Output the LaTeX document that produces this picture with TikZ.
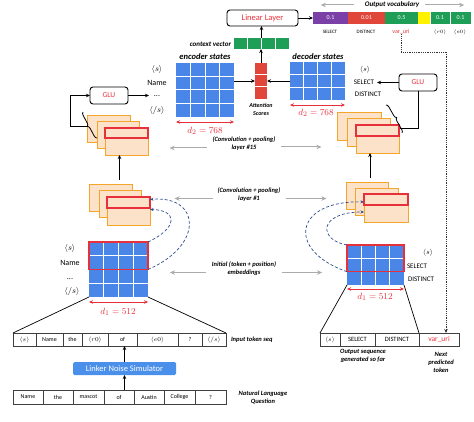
\documentclass[tikz,border=0pt]{standalone}
\usepackage{fontspec}
\setmainfont{Carlito}
\usetikzlibrary{arrows.meta,decorations.pathreplacing,calc}
\definecolor{gblue}{HTML}{4A86E8}
\definecolor{lblue}{HTML}{4A8FEA}
\definecolor{cred}{HTML}{E0463A}
\definecolor{tred}{HTML}{E8303A}
\definecolor{cgreen}{HTML}{1E9E57}
\definecolor{cpurple}{HTML}{7B3FA8}
\definecolor{cyellow}{HTML}{FFF200}
\definecolor{peach}{HTML}{FCE2C8}
\definecolor{corange}{HTML}{F4A62A}
\definecolor{garrow}{HTML}{ABABAB}
\definecolor{dblue}{HTML}{2F4D8C}
\newcommand\myfs[2]{\fontsize{#1}{#2}\selectfont}
\newcommand\bx[7]{\node[#1, anchor=north west, minimum width={#5-#3}, minimum height={#6-#4}] (#2) at (#3,#4) {#7};}
\newcommand\vlines[2]{\foreach \fr in {#2} \draw[white, line width=1pt] ($(#1.north west)!\fr!(#1.north east)$) -- ($(#1.south west)!\fr!(#1.south east)$);}
\newcommand\hlines[2]{\foreach \fr in {#2} \draw[white, line width=1pt] ($(#1.north west)!\fr!(#1.south west)$) -- ($(#1.north east)!\fr!(#1.south east)$);}
\tikzset{
 every node/.style={inner sep=0pt, outer sep=0pt},
 arr/.style={-{Stealth[length=4pt,width=3.5pt]}, line width=0.8pt, black},
 garr/.style={-{Stealth[length=5pt,width=4.5pt]}, line width=1pt, garrow},
 darr/.style={{Stealth[length=4pt,width=3.5pt]}-{Stealth[length=4pt,width=3.5pt]}, line width=0.9pt, tred},
 card/.style={draw=corange, fill=peach, line width=0.9pt},
 redbox/.style={draw=tred, line width=1.2pt},
 rbox/.style={draw=black, line width=0.9pt, rounded corners=3pt, fill=white, text=tred},
 cell/.style={draw=black!75, line width=0.5pt, font=\myfs{6}{7}},
 vc/.style={text=white, font=\myfs{6}{7}},
 vlab/.style={font=\myfs{5}{6}},
 lab/.style={font=\myfs{6.5}{8}\bfseries\itshape, align=center},
 tok/.style={font=\myfs{8}{9}},
 stok/.style={font=\myfs{7}{8}},
 dlab/.style={text=tred, font=\myfs{9.5}{11}},
 dcurve/.style={densely dashed, dblue, line width=0.7pt, -{Stealth[length=3.5pt,width=3pt]}},
 brc/.style={decorate, decoration={brace, amplitude=3pt}, line width=0.8pt},
 thinl/.style={line width=0.7pt},
 dotl/.style={densely dotted, line width=0.8pt, black!80},
}
\begin{document}
\begin{tikzpicture}[x=1pt,y=-1pt]
\useasboundingbox (0,0) rectangle (474,422);
% ---------- output vocabulary ----------
\node[lab, font=\myfs{7}{8}\bfseries\itshape] (ov) at (392,5) {Output vocabulary};
\draw[garr] ([xshift=-11pt]ov.west) -- ++(-33,0);
\draw[garr] ([xshift=6pt]ov.east) -- ++(39,0);
\bx{vc, fill=cpurple}{v1}{313}{12}{348}{24}{0.1}
\bx{vc, fill=cred}{v2}{348}{12}{385}{24}{0.01}
\bx{vc, fill=cgreen}{v3}{385}{12}{418}{24}{0.5}
\bx{vc, fill=cyellow}{v4}{418}{12}{430}{24}{}
\bx{vc, fill=cgreen}{v5}{430}{12}{450}{24}{0.1}
\bx{vc, fill=cgreen}{v6}{450}{12}{471}{24}{0.1}
\draw[white, line width=0.8pt] (v5.north west) -- (v5.south west) (v6.north west) -- (v6.south west);
\node[vlab] (vl1) at (330,32) {SELECT};
\node[vlab] (vl2) at (366,32) {DISTINCT};
\node[vlab, text=tred, font=\myfs{6}{7}] (vl3) at (401,32) {var\_uri};
\node[vlab] (vl5) at (440,32) {$\langle r0\rangle$};
\node[vlab] (vl6) at (460,32) {$\langle e0\rangle$};
% ---------- linear layer / context / attention ----------
\bx{rbox, font=\myfs{8.5}{10}}{ll}{227}{10}{298}{26}{Linear Layer}
\draw[arr] (ll.east) -- (v1.west);
\bx{fill=cgreen}{ctx}{234}{38}{289}{49}{}
\vlines{ctx}{0.25,0.5,0.75}
\node[lab, font=\myfs{7}{8}\bfseries\itshape, anchor=east] (ctxl) at (231,44) {context vector};
\draw[arr] (ctx.north) -- (ctx.north |- ll.south);
\bx{fill=cred}{att}{255}{63}{267}{99}{}
\hlines{att}{0.3333,0.6667}
\draw[arr] (att.north) -- (att.north |- ctx.south);
\node[lab, font=\myfs{6}{8}\bfseries\itshape] (attl) at (261,109) {Attention\\Scores};
% encoder states
\bx{fill=gblue}{enc}{176}{63}{234}{117}{}
\vlines{enc}{0.25,0.5,0.75}
\hlines{enc}{0.25,0.5,0.75}
\node[lab, font=\myfs{8.5}{10}\bfseries\itshape] (encl) at (205,57) {encoder states};
\draw[arr] (enc.east |- att.west) -- (att.west);
\draw[darr] ([yshift=-5pt]enc.south west) -- ([yshift=-5pt]enc.south east);
\node[dlab] (d2a) at (205,131) {$d_2 = 768$};
% decoder states
\bx{fill=gblue}{dec}{290}{62}{345}{100}{}
\vlines{dec}{0.25,0.5,0.75}
\hlines{dec}{0.3333,0.6667}
\node[lab, font=\myfs{8.5}{10}\bfseries\itshape] (decl) at (318,57) {decoder states};
\draw[arr] (dec.west |- att.east) -- (att.east);
\draw[darr] ([yshift=-5pt]dec.south west) -- ([yshift=-5pt]dec.south east);
\node[dlab] (d2b) at (316,113) {$d_2 = 768$};
% ---------- left encoder side ----------
\node[tok] (t1) at (157,70) {$\langle s\rangle$};
\node[tok] (t2) at (157,83) {Name};
\node[tok] (t3) at (157,96) {...};
\node[tok] (t4) at (157,111) {$\langle /s\rangle$};
\bx{rbox, font=\myfs{7.5}{9}}{glul}{90}{87}{128}{104}{GLU}
\draw[arr] (glul.east) -- ([xshift=-5pt]t3.west |- glul.east);
% layer 15 stack (left)
\bx{card}{a1}{87}{115}{130}{142}{}
\bx{card}{a2}{97}{121}{139}{148}{}
\bx{card}{a3}{105}{128}{148}{155}{}
\bx{redbox}{a3r}{105}{128}{148}{138}{}
\draw[brc] (97,138) -- (83,112);
\coordinate (bl) at (88,126);
\draw[arr] (bl) -| ($(glul.west)+(-20,0)$) -- (glul.west);
% layer 1 stack (left)
\bx{card}{b1}{89}{184}{132}{211}{}
\bx{card}{b2}{99}{190}{141}{217}{}
\bx{card}{b3}{107}{197}{150}{225}{}
\bx{redbox}{b3r}{107}{197}{150}{208}{}
\draw[arr] ([xshift=9pt,yshift=4pt]b1.north) -- ([xshift=9pt]b1.north |- a3.south);
% embeddings (left)
\bx{fill=gblue}{embl}{89}{242}{148}{297}{}
\vlines{embl}{0.25,0.5,0.75}
\hlines{embl}{0.25,0.5,0.75}
\bx{redbox}{emblr}{89}{242}{148}{269.5}{}
\node[tok] (e1) at (70,249) {$\langle s\rangle$};
\node[tok] (e2) at (70,263) {Name};
\node[tok] (e3) at (70,279) {...};
\node[tok] (e4) at (72,292) {$\langle /s\rangle$};
\draw[darr] ([yshift=-5pt]embl.south west) -- ([yshift=-5pt]embl.south east);
\node[dlab] (d1a) at (118,312) {$d_1 = 512$};
\draw[dcurve] (emblr.south east) .. controls (205,245) and (200,195) .. ([yshift=3pt]b3r.east);
\draw[dcurve] (embl.north east) .. controls (178,228) and (178,210) .. ([yshift=-7pt]b3r.east);
% ---------- right decoder side ----------
\node[stok] (r0) at (365,70) {$\langle s\rangle$};
\node[stok] (rsel) at (364,82) {SELECT};
\node[stok] (rdis) at (368,94) {DISTINCT};
\bx{rbox, font=\myfs{7.5}{9}}{glur}{399}{74}{437}{91}{GLU}
\draw[arr] (glur.west) -- ([xshift=3pt]rsel.east |- glur.west);
\bx{card}{p1}{337}{112}{381}{140}{}
\bx{card}{p2}{347}{118}{390}{146}{}
\bx{card}{p3}{356}{125}{399}{153}{}
\bx{redbox}{p3r}{356}{125}{399}{136}{}
\draw[brc] (386,105) -- (402,133);
\coordinate (brr) at (400,128);
\draw[line width=0.8pt] (glur.south) |- (brr);
\bx{card}{q1}{346}{182}{388}{209}{}
\bx{card}{q2}{355}{188}{398}{215}{}
\bx{card}{q3}{364}{194}{408}{222}{}
\bx{redbox}{q3r}{364}{194}{408}{205}{}
\draw[arr] ([xshift=3pt,yshift=4pt]q1.north) -- ([xshift=3pt]q1.north |- p3.south);
\bx{fill=gblue}{embr}{347}{245}{404}{285}{}
\vlines{embr}{0.25,0.5,0.75}
\hlines{embr}{0.3333,0.6667}
\bx{redbox}{embrr}{347}{245}{404}{271.7}{}
\node[stok] (s0) at (428,253) {$\langle s\rangle$};
\node[stok, anchor=west] (ssel) at (407,266) {SELECT};
\node[stok, anchor=west] (sdis) at (408,279) {DISTINCT};
\draw[darr] ([yshift=-4pt]embr.south west) -- ([yshift=-4pt]embr.south east);
\node[dlab] (d1b) at (375,297) {$d_1 = 512$};
\draw[dcurve] (embrr.south west) .. controls (285,250) and (295,200) .. ([yshift=6pt]q3.west);
\draw[dcurve] (embr.north west) .. controls (318,240) and (318,212) .. ([yshift=-4pt]q3.west);
% ---------- middle labels ----------
\node[lab] (m15) at (244,144) {(Convolution + pooling)\\layer \#15};
\draw[garr] ([xshift=-6pt,yshift=-4pt]m15.west) -- ++(-37,0);
\draw[garr] ([xshift=6pt,yshift=-3pt]m15.east) -- ++(40,0);
\node[lab] (m1) at (249,194.5) {(Convolution + pooling)\\layer \#1};
\draw[garr] ([xshift=-5pt,yshift=-4pt]m1.west) -- ++(-38,0);
\draw[garr] ([xshift=6pt,yshift=-4pt]m1.east) -- ++(40,0);
\node[lab] (me) at (244,268.5) {Initial (token + position)\\embeddings};
\draw[garr] ([xshift=-6pt,yshift=-4pt]me.west) -- ++(-36,0);
\draw[garr] ([xshift=6pt,yshift=-4pt]me.east) -- ++(40,0);
% ---------- input token sequence ----------
\bx{cell}{s1}{13}{333}{36}{346}{$\langle s\rangle$}
\bx{cell}{s2}{36}{333}{63}{346}{Name}
\bx{cell}{s3}{63}{333}{82}{346}{the}
\bx{cell}{s4}{82}{333}{108}{346}{$\langle r0\rangle$}
\bx{cell}{s5}{108}{333}{137}{346}{of}
\bx{cell}{s6}{137}{333}{178}{346}{$\langle e0\rangle$}
\bx{cell}{s7}{178}{333}{202}{346}{?}
\bx{cell}{s8}{202}{333}{226}{346}{$\langle /s\rangle$}
\node[lab, anchor=west] (isl) at (231,340) {Input token seq};
\draw[thinl] (embl.south west) -- (s1.north west);
\draw[thinl] (embl.south east) -- (s8.north east);
\bx{fill=lblue, text=white, rounded corners=1.5pt, font=\myfs{8.5}{10}}{lns}{73}{362}{176}{375}{Linker Noise Simulator}
\draw[arr] (lns.north) -- (lns.north |- s5.south);
% natural language question
\bx{cell}{n1}{13}{390}{43}{404}{Name}
\bx{cell}{n2}{43}{390}{73}{404}{the}
\bx{cell}{n3}{73}{390}{104}{404}{mascot}
\bx{cell}{n4}{104}{390}{134}{404}{of}
\bx{cell}{n5}{134}{390}{164}{404}{Austin}
\bx{cell}{n6}{164}{390}{195}{404}{College}
\bx{cell}{n7}{195}{390}{226}{404}{?}
\draw[arr] (lns.south |- n4.north) -- (lns.south);
\node[lab] (nll) at (263,397.5) {Natural Language\\Question};
% ---------- output sequence ----------
\bx{cell, font=\myfs{6.5}{7}}{o1}{320}{333}{340}{346}{$\langle s\rangle$}
\bx{cell, font=\myfs{6.5}{7}}{o2}{340}{333}{375}{346}{SELECT}
\bx{cell, font=\myfs{6.5}{7}}{o3}{375}{333}{419}{346}{DISTINCT}
\bx{cell, text=tred, font=\myfs{7.5}{8}}{o4}{419}{333}{459}{346}{var\_uri}
\draw[thinl] (embr.south west) -- (o1.north west);
\draw[thinl] (embr.south east) -- (o4.north west);
\node[lab] (osl) at (363,356) {Output sequence\\generated so far};
\node[lab] (npl) at (441,362) {Next\\predicted\\token};
\coordinate (dk) at (446,52);
\draw[dotl] (vl3.south) |- (dk);
\draw[dotl, -{Stealth[length=4pt,width=3.5pt]}] (dk) -- ([xshift=7pt]o4.north);
\end{tikzpicture}
\end{document}
